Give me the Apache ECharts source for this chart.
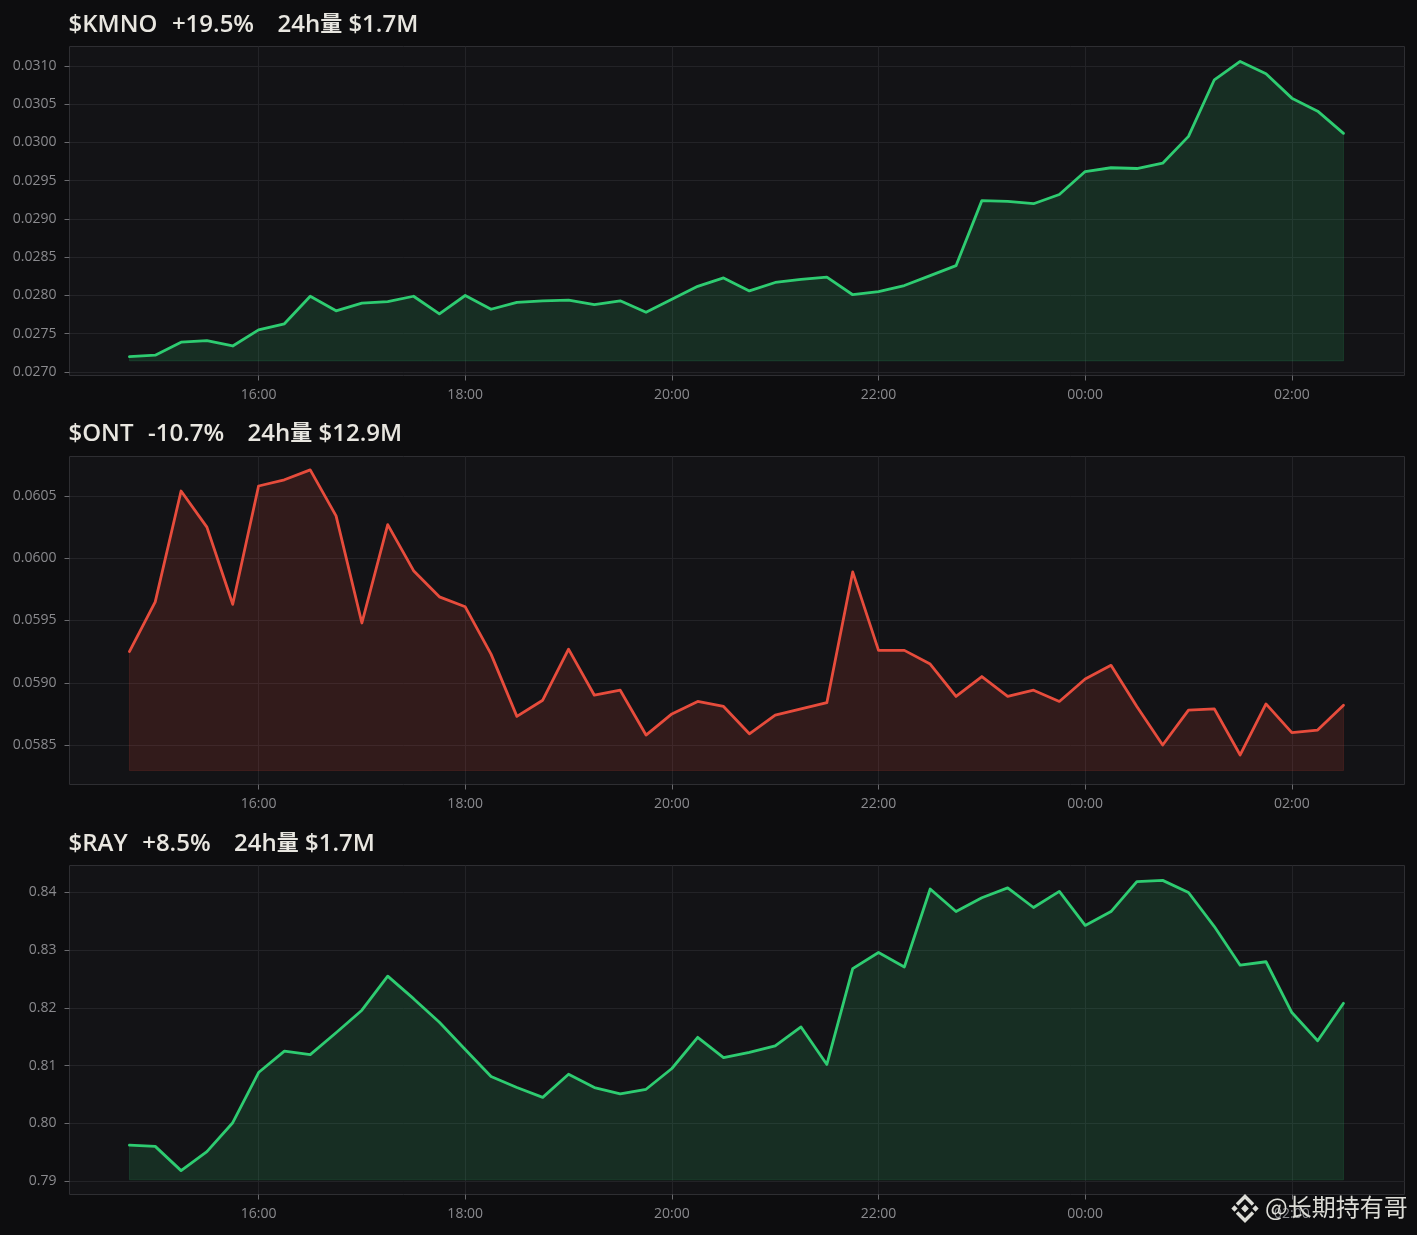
<!DOCTYPE html>
<html><head><meta charset="utf-8">
<style>html,body{margin:0;padding:0;background:#0d0d0f}#c{width:1417px;height:1235px}</style>
<script src="https://cdn.jsdelivr.net/npm/echarts@6/dist/echarts.min.js"></script>
</head><body><div id="c"></div>
<script>
const times = ["14:45","15:00","15:15","15:30","15:45","16:00","16:15","16:30","16:45","17:00","17:15","17:30","17:45","18:00","18:15","18:30","18:45","19:00","19:15","19:30","19:45","20:00","20:15","20:30","20:45","21:00","21:15","21:30","21:45","22:00","22:15","22:30","22:45","23:00","23:15","23:30","23:45","00:00","00:15","00:30","00:45","01:00","01:15","01:30","01:45","02:00","02:15","02:30"];
const kmno = [0.02720,0.02722,0.02739,0.02741,0.02734,0.02755,0.02763,0.02799,0.02780,0.02790,0.02792,0.02799,0.02776,0.02800,0.02782,0.02791,0.02793,0.02794,0.02788,0.02793,0.02778,0.02795,0.02812,0.02823,0.02806,0.02817,0.02821,0.02824,0.02801,0.02805,0.02813,0.02826,0.02839,0.02924,0.02923,0.02920,0.02932,0.02962,0.02967,0.02966,0.02973,0.03008,0.03082,0.03106,0.03090,0.03058,0.03041,0.03012];
const ont = [0.05925,0.05965,0.06054,0.06025,0.05963,0.06058,0.06063,0.06071,0.06034,0.05948,0.06027,0.05990,0.05969,0.05961,0.05923,0.05873,0.05886,0.05927,0.05890,0.05894,0.05858,0.05875,0.05885,0.05881,0.05859,0.05874,0.05879,0.05884,0.05989,0.05926,0.05926,0.05915,0.05889,0.05905,0.05889,0.05894,0.05885,0.05903,0.05914,0.05881,0.05850,0.05878,0.05879,0.05842,0.05883,0.05860,0.05862,0.05882];
const ray = [0.7962,0.7960,0.7918,0.7951,0.8001,0.8088,0.8125,0.8119,0.8157,0.8196,0.8255,0.8216,0.8175,0.8128,0.8081,0.8062,0.8045,0.8085,0.8062,0.8051,0.8059,0.8095,0.8149,0.8114,0.8123,0.8134,0.8167,0.8102,0.8268,0.8296,0.8271,0.8406,0.8367,0.8391,0.8408,0.8374,0.8402,0.8343,0.8367,0.8419,0.8421,0.8400,0.8341,0.8274,0.8280,0.8192,0.8143,0.8208];
const xTickLabels = ["16:00","18:00","20:00","22:00","00:00","02:00"];
const kmnoTicks = ["0.0270","0.0275","0.0280","0.0285","0.0290","0.0295","0.0300","0.0305","0.0310"];
const ontTicks = ["0.0585","0.0590","0.0595","0.0600","0.0605"];
const rayTicks = ["0.79","0.80","0.81","0.82","0.83","0.84"];
const titles = ["$KMNO  +19.5%   24h量 $1.7M","$ONT  -10.7%   24h量 $12.9M","$RAY  +8.5%   24h量 $1.7M"];
const watermark = "@长期持有哥";
const GREEN = "#2ecc71", RED = "#e74c3c";

const hrs = t => { const [h,m] = t.split(":").map(Number); return (h < 14 ? h + 24 : h) + m / 60 - 14; };
const xs = times.map(hrs);

const panels = [
  {data:kmno, ticks:kmnoTicks, color:GREEN, top:46.5, h:329, ymin:0.026954, ymax:0.031255, base:0.027145, title:titles[0], ty:11},
  {data:ont, ticks:ontTicks, color:RED, top:456.5, h:328, ymin:0.058183, ymax:0.060817, base:0.058295, title:titles[1], ty:420},
  {data:ray, ticks:rayTicks, color:GREEN, top:865.5, h:329, ymin:0.78766, ymax:0.84468, base:0.7902, title:titles[2], ty:830}
];
const FONT = '"Open Sans","Noto Sans CJK SC",sans-serif';
const TS = {color:"#e8e6e0",fontWeight:600,fontFamily:FONT};
const richTitle = s => s.replace("   ","{g3|   }").replace("  ","{g2|  }").replace("量","{c|量}");
const grid=[],xAxis=[],yAxis=[],series=[],title=[];
panels.forEach((p,i)=>{
  grid.push({left:69.5,width:1335,top:p.top,height:p.h,show:true,backgroundColor:"#131316",borderColor:"#2e2e32",borderWidth:1,containLabel:false});
  title.push({text:richTitle(p.title),left:68.5,top:p.ty,padding:0,textStyle:{...TS,fontSize:24,lineHeight:28,
    rich:{g3:{...TS,fontSize:30,lineHeight:28},g2:{...TS,fontSize:28,lineHeight:28},c:{...TS,fontSize:22,lineHeight:28}}}});
  xAxis.push({type:"value",gridIndex:i,min:0.1702,max:13.0904,
    axisLine:{show:false},
    axisTick:{show:true,length:5,lineStyle:{color:"#6a6a6e"},customValues:xTickLabels.map(hrs)},
    axisLabel:{color:"#8a8a8e",fontSize:14,fontFamily:FONT,margin:13,customValues:xTickLabels.map(hrs),
      formatter:v=>xTickLabels[xTickLabels.map(hrs).findIndex(a=>Math.abs(a-v)<1e-6)]},
    splitLine:{show:true,lineStyle:{color:"#232327",width:1}}});
  yAxis.push({type:"value",gridIndex:i,min:p.ymin,max:p.ymax,
    axisLine:{show:false},
    axisTick:{show:true,length:5,lineStyle:{color:"#6a6a6e"},customValues:p.ticks.map(Number)},
    axisLabel:{color:"#8a8a8e",fontSize:14,fontFamily:FONT,margin:13,customValues:p.ticks.map(Number),
      formatter:v=>p.ticks[p.ticks.map(Number).findIndex(a=>Math.abs(a-v)<1e-9)]},
    splitLine:{show:true,lineStyle:{color:"#232327",width:1}}});
  const n=xs.length-1;
  series.push({type:"line",name:"edge"+i,xAxisIndex:i,yAxisIndex:i,silent:true,symbol:"none",z:2,
    data:[[xs[0],p.data[0]],[xs[0],p.base],[xs[n],p.base],[xs[n],p.data[n]]],
    lineStyle:{color:p.color,width:1,opacity:0.15}});
  series.push({type:"line",name:"s"+i,xAxisIndex:i,yAxisIndex:i,silent:true,symbol:"none",smooth:false,z:3,
    data:xs.map((x,k)=>[x,p.data[k]]),
    lineStyle:{color:p.color,width:2.8,cap:"round",join:"round"},
    areaStyle:{color:p.color,opacity:0.15,origin:p.base}});
});
const chart = echarts.init(document.getElementById("c"),null,{renderer:"canvas"});
const ic="#dcdcd6";
const sq=(x,y,s)=>({type:"rect",rotation:Math.PI/4,x:x,y:y,shape:{x:-s/2,y:-s/2,width:s,height:s},style:{fill:ic}});
chart.setOption({animation:false,backgroundColor:"#0d0d0f",title,grid,xAxis,yAxis,series,
  graphic:[
    {type:"group",z:100,children:[
      sq(1245,1208.5,5.5),sq(1234.5,1208.5,4.5),sq(1255.5,1208.5,4.5),
      {type:"polyline",shape:{points:[[1237,1204.5],[1245,1196.5],[1253,1204.5]]},style:{stroke:ic,lineWidth:3.4,fill:null}},
      {type:"polyline",shape:{points:[[1237,1212.5],[1245,1220.5],[1253,1212.5]]},style:{stroke:ic,lineWidth:3.4,fill:null}}
    ]},
    {type:"text",z:100,x:1265,y:1195,style:{text:watermark,fill:"#dcdcd6",font:'24px "Noto Sans CJK SC",sans-serif'}}
  ]});
</script></body></html>
